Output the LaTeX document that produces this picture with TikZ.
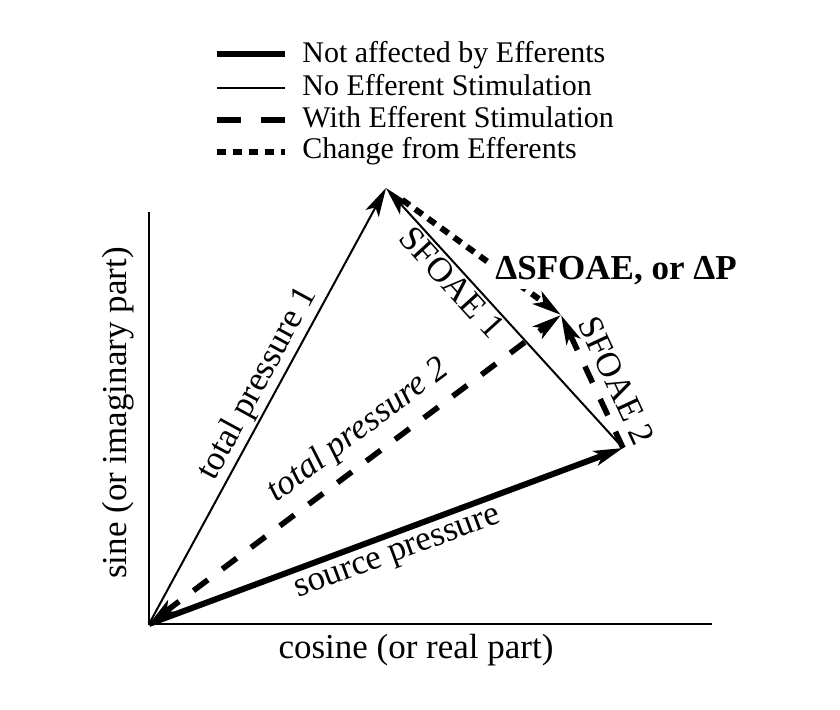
\documentclass[tikz,border=0pt]{standalone}
\usepackage{fontspec}
\setmainfont{Liberation Serif}
\usetikzlibrary{arrows.meta,positioning}

\begin{document}
\begin{tikzpicture}[x=0.5pt,y=-0.5pt,
  >={Stealth[length=14.5pt,width=7.5pt,inset=3.5pt]},
  thinvec/.style={line width=1pt,->},
  thickvec/.style={line width=3pt,->},
  effvec/.style={line width=2.8pt,dash pattern=on 9pt off 9pt,->},
  chgvec/.style={line width=3pt,dash pattern=on 4.5pt off 3.5pt,->},
  lbl/.style={font=\fontsize{17.5}{21}\selectfont,inner sep=1pt},
  leg/.style={font=\fontsize{15}{18}\selectfont,inner sep=0pt,anchor=base west}]
\useasboundingbox (0,0) rectangle (840,710);

% corners of the triangle
\coordinate (O) at (149,624);
\coordinate (A) at (386,188);
\coordinate (B) at (623,448);
\coordinate (C) at (561,315);
\coordinate (ytop) at (149,212);
\coordinate (xend) at (712,624);

% axes
\draw[line width=1pt] (ytop)--(O)--(xend);
\node[lbl,rotate=90] (ylabel) at (118,413) {sine (or imaginary part)};
\node[lbl] (xlabel) at (416,650) {cosine (or real part)};

% vectors
\draw[thinvec] (O)--node[lbl,sloped,above,pos=0.53]{total pressure 1}(A);
\draw[thinvec] (B)--node[lbl,sloped,below,pos=0.675]{SFOAE 1}(A);
\draw[thickvec] (O)--node[lbl,sloped,below=3pt,pos=0.51]{source pressure}(B);
\draw[effvec,<->] (O)--node[lbl,sloped,above=4pt,pos=0.55]{\itshape total pressure 2}(C);
\draw[effvec] (B)--node[lbl,sloped,above=3pt,pos=0.434]{SFOAE 2}(C);
\draw[chgvec,shorten <=10pt] (A)--(C);
\node[lbl,fill=white,inner sep=2pt] (dP) at (616,271) {\bfseries ΔSFOAE, or ΔP};

% legend
\draw[line width=3.3pt] (217,54)--(285,54);
\node[leg] (legA) at (302,63) {Not affected by Efferents};
\draw[line width=1pt] (217,88)--(285,88);
\node[leg] (legB) at (302,96) {No Efferent Stimulation};
\draw[line width=3pt,dash pattern=on 12pt off 10pt] (217,120)--(285,120);
\node[leg] (legC) at (302,128) {With Efferent Stimulation};
\draw[line width=3pt,dash pattern=on 4.5pt off 3.5pt] (217,152)--(285,152);
\node[leg] (legD) at (302,159) {Change from Efferents};
\end{tikzpicture}
\end{document}
